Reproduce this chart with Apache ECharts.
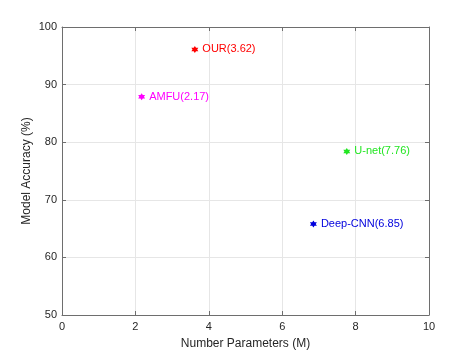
<!DOCTYPE html>
<html><head><meta charset="utf-8">
<script src="https://cdn.jsdelivr.net/npm/echarts@6/dist/echarts.min.js"></script>
<style>html,body{margin:0;padding:0;background:#fff}#c{width:474px;height:355px}</style>
</head><body><div id="c"></div>
<script>
var names = ['OUR', 'AMFU', 'U-net', 'Deep-CNN'];
var params = [3.62, 2.17, 7.76, 6.85];
var accuracy = [96.1, 87.9, 78.4, 65.8];
var colors = ['#ff0000', '#ff00ff', '#22e622', '#0000dd'];
var xTicks = [0, 2, 4, 6, 8, 10];
var yTicks = [50, 60, 70, 80, 90, 100];

var hexagram = 'path://M0,-10 L2.887,-5 L8.66,-5 L5.774,0 L8.66,5 L2.887,5 L0,10 L-2.887,5 L-8.66,5 L-5.774,0 L-8.66,-5 L-2.887,-5 Z';
var font = 'Liberation Sans, Arial, sans-serif';
var axisColor = '#6e6e6e';
var textColor = '#262626';

var series = names.map(function (n, i) {
  return {
    type: 'scatter',
    name: n,
    symbol: hexagram,
    symbolSize: 7,
    itemStyle: { color: colors[i], opacity: 1 },
    label: {
      show: true, position: 'right', distance: 4,
      formatter: n + '(' + params[i].toFixed(2) + ')',
      color: colors[i], fontFamily: font, fontSize: 11
    },
    data: [[params[i], accuracy[i]]]
  };
});

var chart = echarts.init(document.getElementById('c'));
chart.setOption({
  animation: false,
  grid: { left: 62, right: 45, top: 27, bottom: 40, show: false },
  xAxis: [{
    type: 'value', min: xTicks[0], max: xTicks[xTicks.length - 1], interval: 2,
    name: 'Number Parameters (M)', nameLocation: 'middle', nameGap: 23, nameMoveOverlap: false,
    nameTextStyle: { fontFamily: font, fontSize: 12, color: textColor },
    axisLine: { show: true, lineStyle: { color: axisColor, width: 1 } },
    axisTick: { show: true, inside: true, length: 4, lineStyle: { color: axisColor } },
    axisLabel: { fontFamily: font, fontSize: 11, color: textColor, margin: 6 },
    splitLine: { show: true, lineStyle: { color: '#e6e6e6' } }
  }, {
    type: 'value', position: 'top', min: xTicks[0], max: xTicks[xTicks.length - 1], interval: 2,
    axisLine: { show: true, onZero: false, lineStyle: { color: axisColor, width: 1 } },
    axisTick: { show: true, inside: true, length: 4, lineStyle: { color: axisColor } },
    axisLabel: { show: false }, splitLine: { show: false }
  }],
  yAxis: [{
    type: 'value', min: yTicks[0], max: yTicks[yTicks.length - 1], interval: 10,
    name: 'Model Accuracy (%)', nameLocation: 'middle', nameGap: 29, nameMoveOverlap: false,
    nameTextStyle: { fontFamily: font, fontSize: 12, color: textColor },
    axisLine: { show: true, lineStyle: { color: axisColor, width: 1 } },
    axisTick: { show: true, inside: true, length: 4, lineStyle: { color: axisColor } },
    axisLabel: { fontFamily: font, fontSize: 11, color: textColor, margin: 5 },
    splitLine: { show: true, lineStyle: { color: '#e6e6e6' } }
  }, {
    type: 'value', position: 'right', min: yTicks[0], max: yTicks[yTicks.length - 1], interval: 10,
    axisLine: { show: true, onZero: false, lineStyle: { color: axisColor, width: 1 } },
    axisTick: { show: true, inside: true, length: 4, lineStyle: { color: axisColor } },
    axisLabel: { show: false }, splitLine: { show: false }
  }],
  series: series
});
</script></body></html>
